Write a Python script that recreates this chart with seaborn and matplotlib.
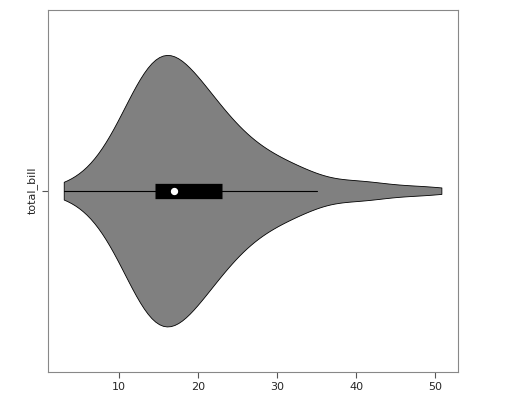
import numpy as np
import pandas as pd
import matplotlib
matplotlib.use("Agg")
import matplotlib.pyplot as plt
import seaborn as sns

# approximate distribution of total_bill (value, count) read from the shape
bill_values = [3, 5, 7, 9, 11, 13, 15, 17, 19, 21, 23, 25, 27, 29, 31, 33, 35, 39, 41, 44, 48, 50.8]
bill_counts = [2, 1, 5, 9, 17, 27, 34, 30, 25, 22, 16, 13, 9, 8, 6, 5, 4, 3, 3, 2, 2, 1]
total_bill = np.repeat(bill_values, bill_counts)
df = pd.DataFrame({"total_bill": total_bill, "var": "total_bill"})

sns.set_style("white")
fig = plt.figure(figsize=(5.21, 4.2), dpi=100)
ax = fig.add_axes([0.092, 0.115, 0.787, 0.862])
sns.violinplot(data=df, x="total_bill", y="var", orient="h", inner=None, cut=0,
               color="#808080", saturation=1, linewidth=0.6, width=0.75,
               bw_adjust=1.1, ax=ax)
for c in ax.collections:
    c.set_edgecolor("black")

q1, med, q3 = np.percentile(total_bill, [25, 50, 75])
iqr = q3 - q1
lo = total_bill[total_bill >= q1 - 1.5 * iqr].min()
hi = total_bill[total_bill <= q3 + 1.5 * iqr].max()
ax.plot([lo, hi], [0, 0], color="black", lw=0.8, zorder=3)
ax.plot([q1, q3], [0, 0], color="black", lw=11, solid_capstyle="butt", zorder=4)
ax.scatter([med], [0], color="white", s=18, zorder=5)

ax.set_ylim(0.5, -0.5)
ax.set_xlim(1.0, 52.9)
ax.set_xticks([10, 20, 30, 40, 50])
ax.set_xlabel("")
ax.set_ylabel("")
ax.tick_params(axis="both", length=4, labelsize=8, color="#555555", left=True, bottom=True)
plt.setp(ax.get_yticklabels(), rotation=90, va="center")
for s in ax.spines.values():
    s.set_color("#888888")
    s.set_linewidth(0.8)
fig.savefig("out.png", dpi=100)
